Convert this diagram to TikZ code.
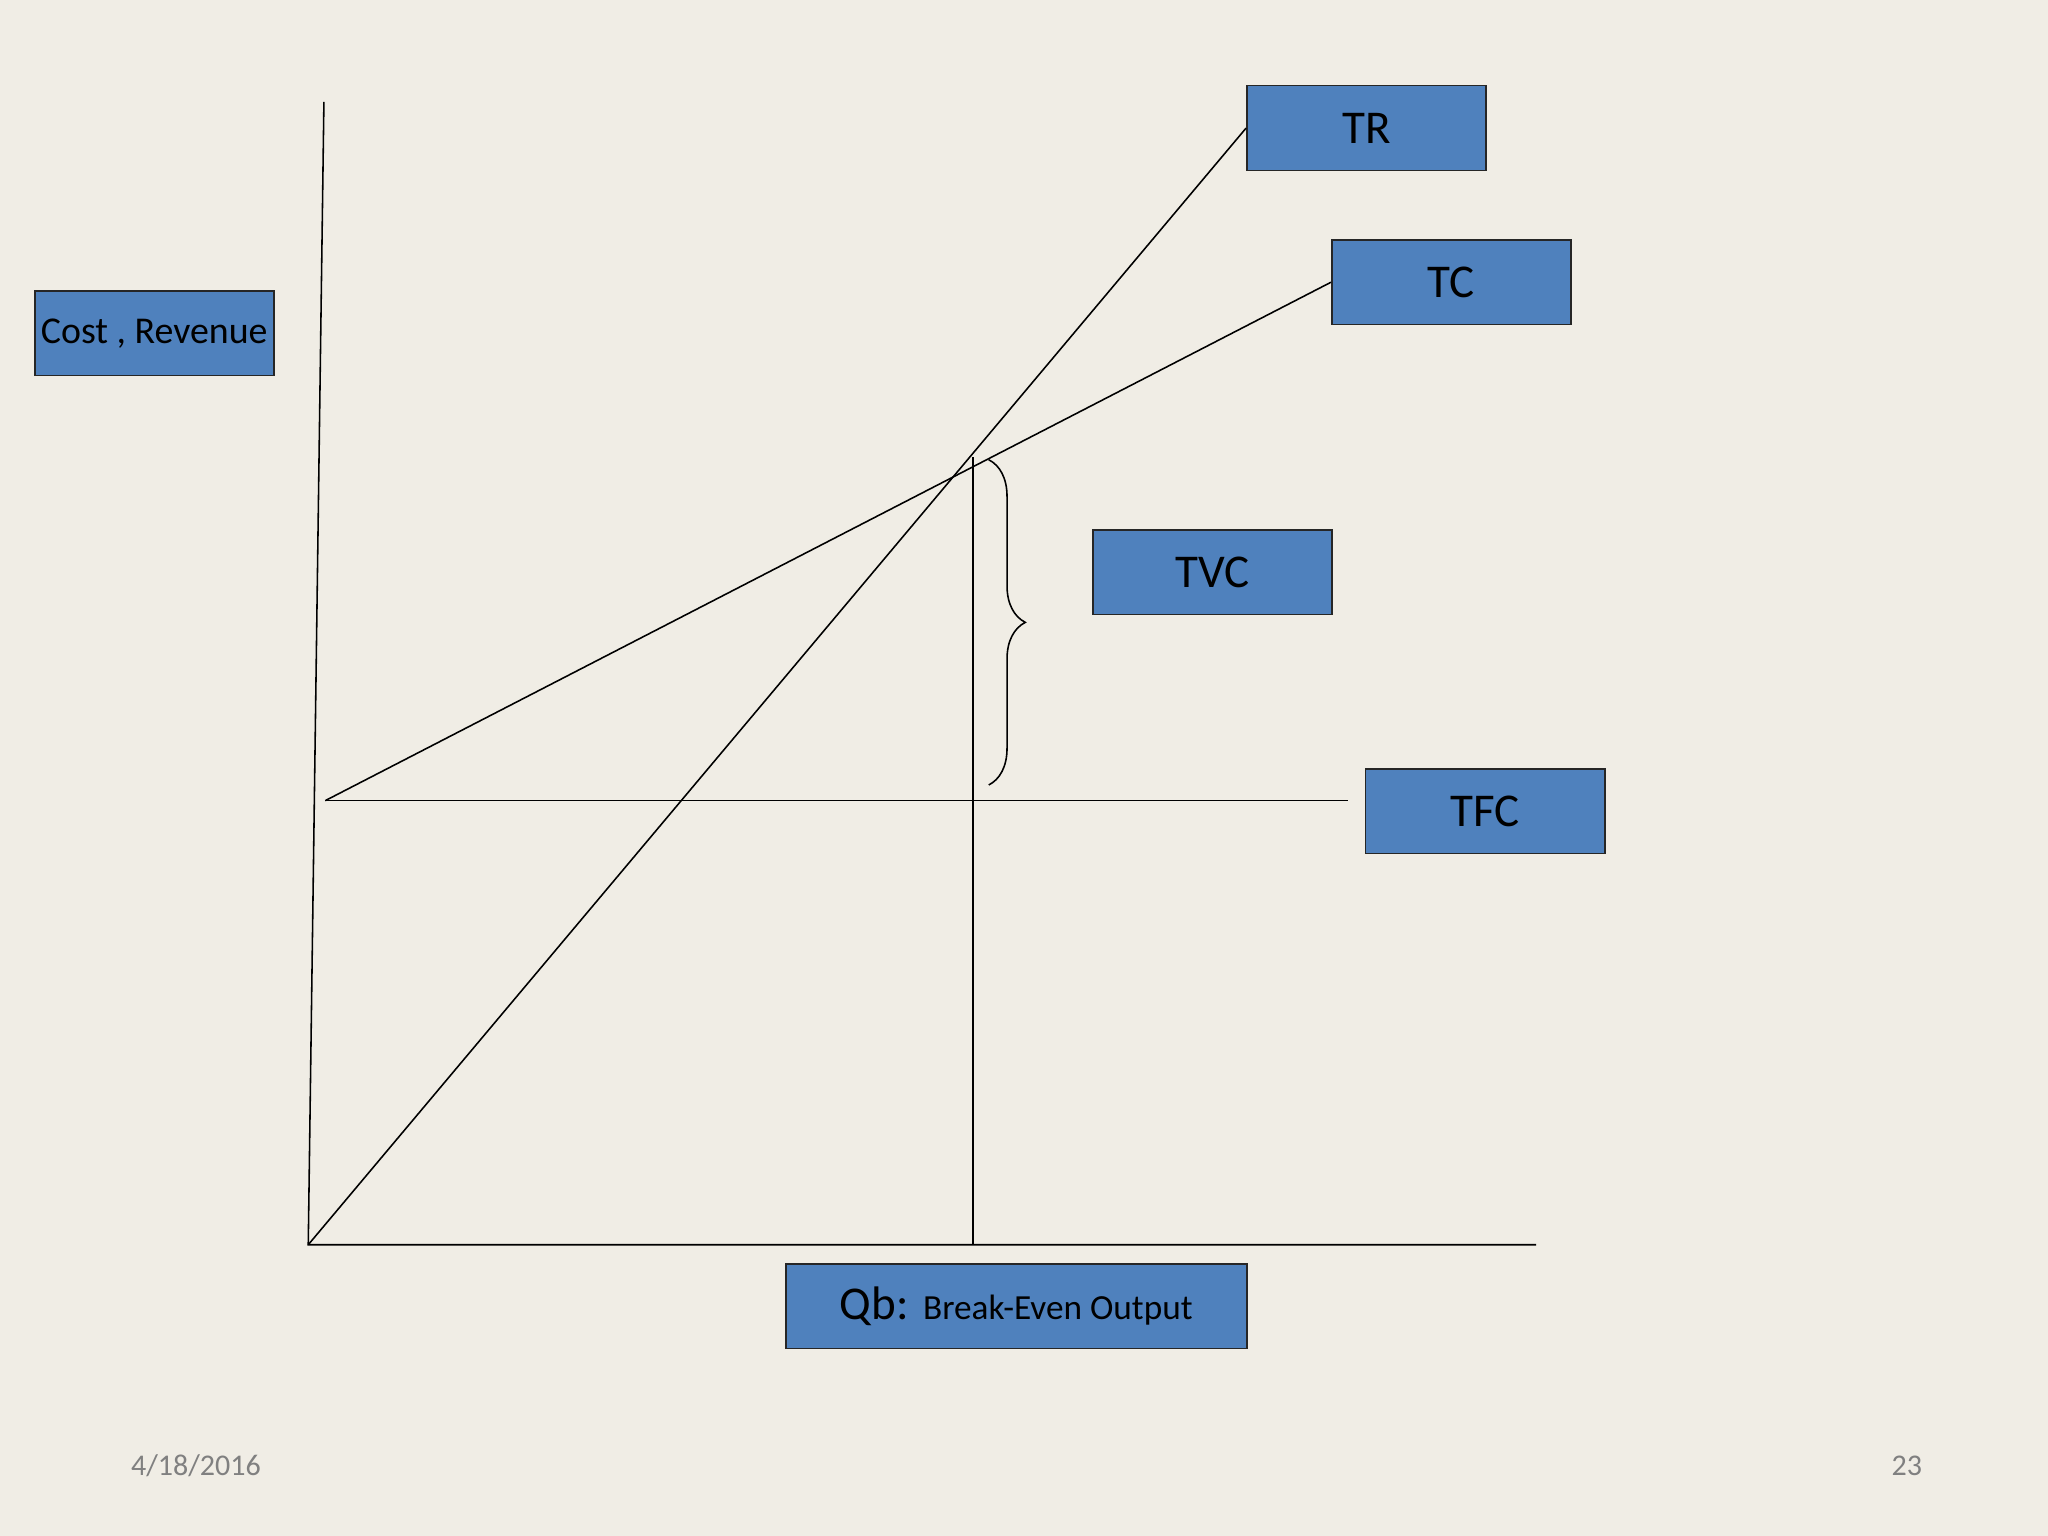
\documentclass[tikz,border=0pt]{standalone}
\usepackage{fontspec}
\setmainfont{Carlito}
\usetikzlibrary{decorations.pathreplacing}
\definecolor{bg}{HTML}{F0EDE5}
\definecolor{boxblue}{HTML}{4F81BD}
\tikzset{lbl/.style={draw=black!85,fill=boxblue,line width=0.6pt,inner sep=0pt,anchor=north west},
ln/.style={line width=0.6pt}}
\begin{document}
\begin{tikzpicture}[x=0.5pt,y=-0.5pt]
\fill[bg] (0,0) rectangle (1568,1176);
\node[lbl,minimum width=91.5pt,minimum height=32.5pt] (tr) at (954,65) {};
\node[font=\fontsize{18}{18}\selectfont] at (tr.center) {TR};
\node[lbl,minimum width=91.5pt,minimum height=32.5pt] (tc) at (1019,183) {};
\node[font=\fontsize{18}{18}\selectfont] at (tc.center) {TC};
\node[lbl,minimum width=91.5pt,minimum height=32.5pt] (tvc) at (836,405) {};
\node[font=\fontsize{18}{18}\selectfont] at (tvc.center) {TVC};
\node[lbl,minimum width=91.5pt,minimum height=32.5pt] (tfc) at (1045,588) {};
\node[font=\fontsize{18}{18}\selectfont] at (tfc.center) {TFC};
\node[lbl,minimum width=91.5pt,minimum height=32.5pt] (cr) at (26,222) {};
\node[font=\fontsize{14.5}{14.5}\selectfont] at (cr.center) {Cost , Revenue};
\node[lbl,minimum width=176.5pt,minimum height=32.5pt] (qb) at (601,967) {};
\node[font=\fontsize{18}{18}\selectfont] at (qb.center) {Qb: {\fontsize{13.5}{13.5}\selectfont Break-Even Output}};
\coordinate (ytop) at (248,78);
\coordinate (o) at (236,953);
\coordinate (xend) at (1176,953);
\coordinate (f) at (249,613);
\coordinate (fe) at (1032,613);
\coordinate (vt) at (745,350);
\coordinate (vb) at (745,953);
\coordinate (b1) at (757,352);
\coordinate (b2) at (757,601);
\draw[ln] (ytop) -- (o) -- (xend);
\draw[ln] (o) -- (tr.west);
\draw[ln] (f) -- (tc.west);
\draw[ln] (f) -- (fe);
\draw[ln] (vt) -- (vb);
\draw[ln,decorate,decoration={brace,amplitude=14pt}] (b1) -- (b2);
\node[text=black!50,font=\fontsize{11.5}{11.5}\selectfont] (date) at (150,1122) {4/18/2016};
\node[text=black!50,font=\fontsize{11.5}{11.5}\selectfont] (pg) at (1460,1122) {23};
\end{tikzpicture}
\end{document}
